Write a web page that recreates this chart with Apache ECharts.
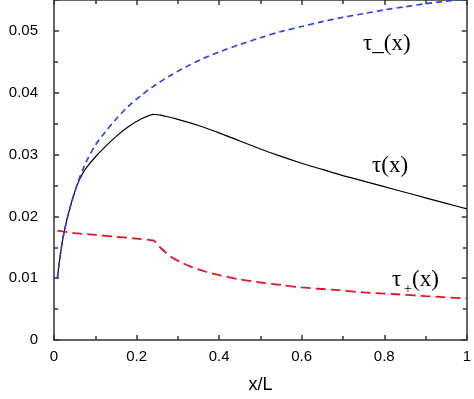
<!DOCTYPE html>
<html>
<head>
<meta charset="utf-8">
<script src="https://cdn.jsdelivr.net/npm/echarts@6/dist/echarts.min.js"></script>
<style>
	html, body { margin: 0; padding: 0; background: #fff; }
	#chart { width: 474px; height: 399px; }
</style>
</head>
<body>
<div id="chart"></div>
<script>
	// tau(x), solid black
	var tauX = [0.008, 0.015, 0.022, 0.03, 0.04, 0.05, 0.06, 0.07, 0.08, 0.1, 0.12, 0.15, 0.18, 0.21, 0.242,
		0.27, 0.3, 0.35, 0.4, 0.45, 0.5, 0.55, 0.6, 0.65, 0.7, 0.75, 0.8, 0.85, 0.9, 0.95, 1.0];
	var tauY = [0.0100, 0.0136, 0.0166, 0.0191, 0.0217, 0.0239, 0.0257, 0.0270, 0.0280, 0.0296, 0.0310, 0.0329, 0.0345, 0.0357, 0.0365,
		0.0362, 0.0357, 0.0347, 0.0335, 0.0322, 0.0309, 0.0297, 0.0286, 0.0276, 0.0266, 0.0257, 0.0248, 0.0239, 0.0230, 0.0221, 0.0212];

	// tau_-(x), blue dashed
	var tauMinusX = [0.008, 0.015, 0.022, 0.03, 0.04, 0.05, 0.06, 0.07, 0.08, 0.1, 0.12, 0.15, 0.18, 0.21, 0.24,
		0.28, 0.32, 0.36, 0.4, 0.45, 0.5, 0.55, 0.6, 0.65, 0.7, 0.75, 0.8, 0.85, 0.9, 0.95, 1.0];
	var tauMinusY = [0.0100, 0.0136, 0.0166, 0.0191, 0.0217, 0.0239, 0.0259, 0.0276, 0.0291, 0.0315, 0.0333, 0.0357, 0.0378, 0.0395, 0.0410,
		0.0427, 0.0442, 0.0455, 0.0466, 0.0478, 0.0489, 0.0499, 0.0507, 0.0515, 0.0522, 0.0528, 0.0534, 0.0539, 0.0544, 0.0548, 0.0552];

	// tau_+(x), red dashed
	var tauPlusX = [0.008, 0.05, 0.1, 0.15, 0.2, 0.24, 0.245, 0.25, 0.26, 0.27, 0.287, 0.31, 0.33, 0.37, 0.4, 0.45, 0.5,
		0.55, 0.6, 0.68, 0.75, 0.83, 0.9, 1.0];
	var tauPlusY = [0.0177, 0.0173, 0.0170, 0.0167, 0.0164, 0.0161, 0.0159, 0.0155, 0.0148, 0.0142, 0.0133, 0.0125, 0.0119, 0.0110, 0.0105, 0.0098, 0.0093,
		0.0089, 0.0085, 0.0081, 0.0077, 0.0074, 0.0071, 0.0067];

	function pairs(xs, ys) {
		var out = [];
		for (var i = 0; i < xs.length; i++) {
			out.push([xs[i], ys[i]]);
		}
		return out;
	}

	var axisColor = '#333';
	var lineSt = { color: axisColor, width: 1.5 };

	function xAx(pos, labels) {
		return {
			type: 'value', position: pos, min: 0, max: 1, interval: 0.2,
			name: labels ? 'x/L' : '', nameLocation: 'middle', nameGap: 36,
			nameTextStyle: { fontFamily: 'Liberation Sans', fontSize: 18, color: '#000' },
			axisLine: { show: true, onZero: false, lineStyle: lineSt },
			axisTick: { show: true, inside: true, length: 5, lineStyle: lineSt },
			minorTick: { show: true, splitNumber: 2, length: 4, lineStyle: lineSt },
			splitLine: { show: false },
			axisLabel: { show: labels, margin: 9, color: '#000', fontFamily: 'Liberation Sans', fontSize: 15 }
		};
	}
	function yAx(pos, labels) {
		return {
			type: 'value', position: pos, min: 0, max: 0.055, interval: 0.01,
			axisLine: { show: true, onZero: false, lineStyle: lineSt },
			axisTick: { show: true, inside: true, length: 5, lineStyle: lineSt },
			minorTick: { show: true, splitNumber: 2, length: 4, lineStyle: lineSt },
			splitLine: { show: false },
			axisLabel: { show: labels, margin: 16, showMaxLabel: false, color: '#000', fontFamily: 'Liberation Sans', fontSize: 15 }
		};
	}

	var serif = 'Liberation Serif';
	var myChart = echarts.init(document.getElementById('chart'));
	myChart.setOption({
		animation: false,
		backgroundColor: '#fff',
		grid: { left: 54, right: 5, top: -1, bottom: 55, containLabel: false },
		xAxis: [xAx('bottom', true), xAx('top', false)],
		yAxis: [yAx('left', true), yAx('right', false)],
		series: [{
			name: 'tau', type: 'line', symbol: 'none', smooth: 0.3,
			lineStyle: { color: '#000', width: 1.2 },
			data: pairs(tauX, tauY)
		}, {
			name: 'tau-', type: 'line', symbol: 'none', smooth: 0.3,
			lineStyle: { color: '#2d3ddb', width: 1.6, type: [6, 4] },
			data: pairs(tauMinusX, tauMinusY)
		}, {
			name: 'tau+', type: 'line', symbol: 'none', smooth: 0.3,
			lineStyle: { color: '#e5142b', width: 1.8, type: [10, 5] },
			data: pairs(tauPlusX, tauPlusY)
		}],
		graphic: [
			{ type: 'text', style: { x: 363, y: 44, text: 'τ_(x)', font: '23px ' + serif, fill: '#000', verticalAlign: 'middle' } },
			{ type: 'text', style: { x: 372, y: 166, text: 'τ(x)', font: '23px ' + serif, fill: '#000', verticalAlign: 'middle' } },
			{ type: 'text', style: { x: 392, y: 280, text: 'τ', font: '23px ' + serif, fill: '#000', verticalAlign: 'middle' } },
			{ type: 'text', style: { x: 404, y: 289, text: '+', font: '14px ' + serif, fill: '#000', verticalAlign: 'middle' } },
			{ type: 'text', style: { x: 412, y: 280, text: '(x)', font: '23px ' + serif, fill: '#000', verticalAlign: 'middle' } }
		]
	});
</script>
</body>
</html>
